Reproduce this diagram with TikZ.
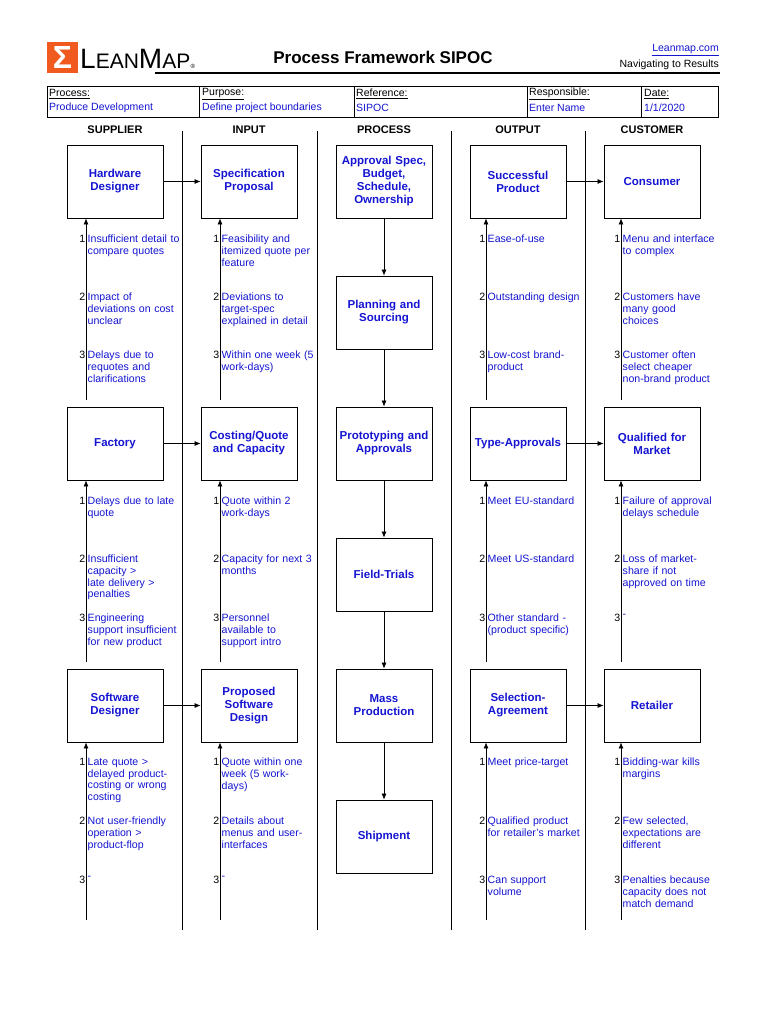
\documentclass[tikz,border=0pt]{standalone}
\usepackage{fontspec}
\setmainfont{Liberation Sans}
\usetikzlibrary{arrows.meta}
\definecolor{tb}{RGB}{20,20,210}
\definecolor{lmor}{RGB}{240,90,30}
\begin{document}
\hyphenpenalty=10000
\begin{tikzpicture}[x=1pt,y=-1pt,
  box/.style={draw,line width=0.8pt,minimum width=96pt,minimum height=73pt,text width=92pt,align=center,font=\fontsize{11.5}{13}\selectfont\bfseries,text=tb,inner sep=2pt},
  item/.style={anchor=north west,text width=92pt,align=left,font=\fontsize{10.6}{11.6}\selectfont,text=tb,inner sep=0pt},
  num/.style={anchor=north east,font=\fontsize{10.6}{11.6}\selectfont,inner sep=0pt},
  hd/.style={font=\fontsize{11}{12}\selectfont\bfseries},
  arr/.style={-{Latex[length=6pt,width=5pt]},line width=0.7pt},
  sep/.style={line width=0.8pt},
  lab/.style={anchor=west,font=\fontsize{10.5}{12}\selectfont,inner sep=0pt}]
\useasboundingbox (0,0) rectangle (768,1024);
% logo
\fill[lmor] (47,42) rectangle (78,73);
\node[text=white,font=\fontsize{32}{32}\selectfont\bfseries,inner sep=0pt] (sig) at (62.5,57) {Σ};
\node[anchor=base west,inner sep=0pt,font=\fontsize{28}{28}\selectfont] (lm) at (80,69) {L\fontsize{21}{21}\selectfont EAN\fontsize{28}{28}\selectfont M\fontsize{21}{21}\selectfont AP};
\node[anchor=base west,inner sep=0pt,font=\fontsize{6}{6}\selectfont] (reg) at (lm.base east) {\textregistered};
\node[font=\fontsize{17}{19}\selectfont\bfseries] (title) at (383,57) {Process Framework SIPOC};
\node[anchor=east,inner sep=0pt,text=tb,font=\fontsize{10.5}{12}\selectfont] (web) at (719,50) {\underline{Leanmap.com}};
\node[anchor=east,inner sep=0pt,font=\fontsize{10.5}{12}\selectfont] (nav) at (719,65) {Navigating to Results};
\draw[line width=1.4pt] (155,73) -- (720,73);
% header table
\draw[line width=0.8pt] (47,86) rectangle (718,117);
\foreach \x in {199,354,527,641} \draw[line width=0.8pt] (\x,86) -- (\x,117);
\node[lab] (p1) at (49,94) {\underline{Process:}};
\node[lab,text=tb] (p2) at (49,108) {Produce Development};
\node[lab] (q1) at (202,94) {\underline{Purpose:}};
\node[lab,text=tb] (q2) at (202,108) {Define project boundaries};
\node[lab] (r1) at (356,94) {\underline{Reference:}};
\node[lab,text=tb] (r2) at (356,108) {SIPOC};
\node[lab] (s1) at (529,94) {\underline{Responsible:}};
\node[lab,text=tb] (s2) at (529,108) {Enter Name};
\node[lab] (t1) at (644,94) {\underline{Date:}};
\node[lab,text=tb] (t2) at (644,108) {1/1/2020};
% headings
\node[hd] (h1) at (115,130) {SUPPLIER};
\node[hd] (h2) at (249,130) {INPUT};
\node[hd] (h3) at (384,130) {PROCESS};
\node[hd] (h4) at (518,130) {OUTPUT};
\node[hd] (h5) at (652,130) {CUSTOMER};
\foreach \x in {182,317,451,585} \draw[sep] (\x,131) -- (\x,930);
% boxes
\node[box] (s1b) at (115,181.5) {Hardware\\Designer};
\node[box] (i1b) at (249,181.5) {Specification\\Proposal};
\node[box] (o1b) at (518,181.5) {Successful\\Product};
\node[box] (c1b) at (652,181.5) {Consumer};
\node[box] (s2b) at (115,443.5) {Factory};
\node[box] (i2b) at (249,443.5) {Costing/Quote\\and Capacity};
\node[box] (o2b) at (518,443.5) {Type-Approvals};
\node[box] (c2b) at (652,443.5) {Qualified for\\Market};
\node[box] (s3b) at (115,705.5) {Software\\Designer};
\node[box] (i3b) at (249,705.5) {Proposed\\Software\\Design};
\node[box] (o3b) at (518,705.5) {Selection-\\Agreement};
\node[box] (c3b) at (652,705.5) {Retailer};
\node[box] (pa) at (384,181.5) {Approval Spec,\\Budget,\\Schedule,\\Ownership};
\node[box] (pb) at (384,312.5) {Planning and\\Sourcing};
\node[box] (pc) at (384,443.5) {Prototyping and\\Approvals};
\node[box] (pd) at (384,574.5) {Field-Trials};
\node[box] (pe) at (384,705.5) {Mass\\Production};
\node[box] (pf) at (384,836.5) {Shipment};
\foreach \a/\b in {pa/pb,pb/pc,pc/pd,pd/pe,pe/pf} \draw[arr] (\a) -- (\b);
\foreach \r in {1,2,3} {\draw[arr] (s\r b) -- (i\r b); \draw[arr] (o\r b) -- (c\r b);}
% vertical arrows
\coordinate (e1) at (0,400); \coordinate (e2) at (0,662); \coordinate (e3) at (0,920);
\foreach \c/\x in {s/86,i/220,o/486,c/621} \foreach \r in {1,2,3} {
  \coordinate (f\c\r) at (\x,0);
  \draw[arr] (f\c\r |- e\r) -- (f\c\r |- \c\r b.south);}
% items
\newcommand\itm[4]{\node[num] at (#1-0.5,#2-4) {#3}; \node[item] at (#1+1.5,#2-4) {#4};}
\itm{86}{239}{1}{Insufficient detail to compare quotes}
\itm{86}{297}{2}{Impact of deviations on cost unclear}
\itm{86}{355}{3}{Delays due to requotes and clarifications}
\itm{220}{239}{1}{Feasibility and itemized quote per feature}
\itm{220}{297}{2}{Deviations to target-spec explained in detail}
\itm{220}{355}{3}{Within one week (5 work-days)}
\itm{486}{239}{1}{Ease-of-use}
\itm{486}{297}{2}{Outstanding design}
\itm{486}{355}{3}{Low-cost brand-product}
\itm{621}{239}{1}{Menu and interface to complex}
\itm{621}{297}{2}{Customers have many good choices}
\itm{621}{355}{3}{Customer often select cheaper non-brand product}
\itm{86}{501}{1}{Delays due to late quote}
\itm{86}{559}{2}{Insufficient capacity > late delivery > penalties}
\itm{86}{618}{3}{Engineering support insufficient for new product}
\itm{220}{501}{1}{Quote within 2 work-days}
\itm{220}{559}{2}{Capacity for next 3 months}
\itm{220}{618}{3}{Personnel available to support intro}
\itm{486}{501}{1}{Meet EU-standard}
\itm{486}{559}{2}{Meet US-standard}
\itm{486}{618}{3}{Other standard - (product specific)}
\itm{621}{501}{1}{Failure of approval delays schedule}
\itm{621}{559}{2}{Loss of market-share if not approved on time}
\itm{621}{618}{3}{-}
\itm{86}{762}{1}{Late quote > delayed product-costing or wrong costing}
\itm{86}{821}{2}{Not user-friendly operation > product-flop}
\itm{86}{880}{3}{-}
\itm{220}{762}{1}{Quote within one week (5 work-days)}
\itm{220}{821}{2}{Details about menus and user-interfaces}
\itm{220}{880}{3}{-}
\itm{486}{762}{1}{Meet price-target}
\itm{486}{821}{2}{Qualified product for retailer's market}
\itm{486}{880}{3}{Can support volume}
\itm{621}{762}{1}{Bidding-war kills margins}
\itm{621}{821}{2}{Few selected, expectations are different}
\itm{621}{880}{3}{Penalties because capacity does not match demand}
\end{tikzpicture}
\end{document}
